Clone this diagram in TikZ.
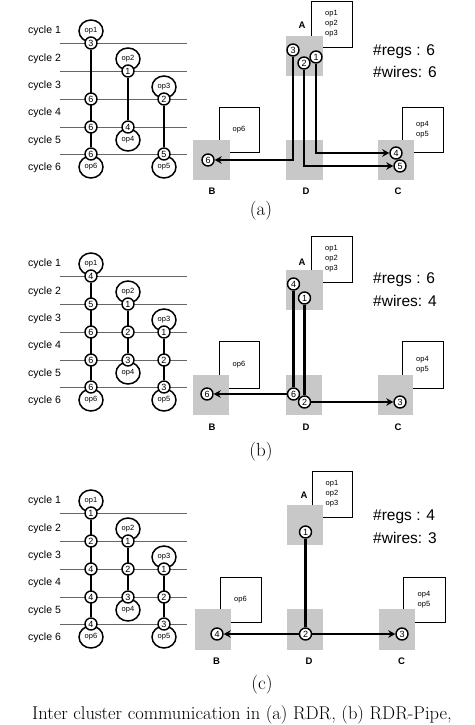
\documentclass[tikz,border=0pt]{standalone}
\usepackage{fontspec}
\setsansfont{Liberation Sans}
\usetikzlibrary{shapes.geometric,arrows.meta}
\pgfdeclarelayer{bg}
\pgfdeclarelayer{wirelayer}
\pgfsetlayers{bg,wirelayer,main}
\definecolor{clgray}{RGB}{200,200,200}
\tikzset{
  cyc/.style={font=\sffamily\fontsize{10.5}{12}\selectfont, anchor=west, inner sep=0},
  opell/.style={ellipse, draw, line width=1.5pt, fill=white, minimum width=24pt, minimum height=22pt, inner sep=0, font=\sffamily\fontsize{7.5}{8}\selectfont},
  reg/.style={circle, draw, line width=1.4pt, fill=white, minimum size=12pt, inner sep=0, font=\sffamily\fontsize{9}{9}\selectfont},
  gridline/.style={draw=black!60, line width=0.9pt},
  chain/.style={line width=2.8pt},
  opbox/.style={draw, line width=0.9pt, fill=white, inner sep=0, align=center, font=\sffamily\fontsize{7.5}{10}\selectfont},
  cluster/.style={fill=clgray, inner sep=0},
  clname/.style={font=\sffamily\bfseries\fontsize{9.5}{10}\selectfont, inner sep=0},
  wire/.style={line width=2.8pt},
  arr/.style={-{Stealth[length=7pt,width=7.5pt]}},
  stat/.style={font=\sffamily\fontsize{15.5}{17}\selectfont, anchor=west, inner sep=0},
  sublabel/.style={font=\fontsize{19}{21}\selectfont, inner sep=0},
}
% #1 prefix, #2 y of first line
\newcommand\schedgrid[2]{%
  \foreach \k/\dy in {1/-12,2/15.5,3/42.5,4/70,5/97.5,6/125}
    \node[cyc] (#1cyc\k) at (28,#2+\dy) {cycle \k};
  \begin{pgfonlayer}{bg}
  \foreach \k/\dy in {1/0,2/28,3/56,4/84,5/111}{
    \coordinate (#1gl\k) at (60,#2+\dy);
    \coordinate (#1gr\k) at (187,#2+\dy);
    \draw[gridline] (#1gl\k) -- (#1gr\k);
  }
  \end{pgfonlayer}
  \node[opell] (#1op1) at (91,#2-12) {op1};
  \node[opell] (#1op2) at (128,#2+16) {op2};
  \node[opell] (#1op3) at (164,#2+44) {op3};
  \node[opell] (#1op4) at (128,#2+97) {op4};
  \node[opell] (#1op5) at (164,#2+124) {op5};
  \node[opell] (#1op6) at (91,#2+124) {op6};
}
% #1 prefix, #2 x, #3 y0, #4 first line, #5 last line, #6 list line/number
\newcommand\colchain[6]{%
  \foreach \k/\n in {#6}{
    \pgfmathsetmacro\dy{{0,28,56,84,111}[\k-1]}
    \node[reg] (#1\k) at (#2,#3+\dy) {\n};
  }
  \begin{pgfonlayer}{wirelayer}
    \draw[chain] (#1#4) -- (#1#5);
  \end{pgfonlayer}
}
\begin{document}
\begin{tikzpicture}[x=1pt,y=-1pt]
\useasboundingbox (0,0) rectangle (474,725);

% ================= (a) =================
\schedgrid{a}{43}
\colchain{aca}{91}{43}{1}{5}{1/3,3/6,4/6,5/6}
\colchain{acb}{128}{43}{2}{4}{2/1,4/4}
\colchain{acc}{164}{43}{3}{5}{3/2,5/5}

\begin{pgfonlayer}{bg}
  \node[opbox, minimum width=41pt, minimum height=46pt] (aboxA) at (331.5,24) {op1\\op2\\op3};
  \node[opbox, minimum width=40pt, minimum height=45pt] (aboxB) at (239,129.5) {op6};
  \node[opbox, minimum width=41pt, minimum height=45pt] (aboxC) at (422.5,129.5) {op4\\op5};
  \node[cluster, minimum width=37pt, minimum height=40pt] (aA) at (304.5,56) {};
  \node[cluster, minimum width=37pt, minimum height=40pt] (aB) at (211.5,160) {};
  \node[cluster, minimum width=37pt, minimum height=40pt] (aD) at (304.5,160) {};
  \node[cluster, minimum width=36pt, minimum height=40pt] (aC) at (396,160) {};
\end{pgfonlayer}
\node[clname] (aAl) at (302,25) {A};
\node[clname] (aBl) at (212,191) {B};
\node[clname] (aDl) at (306,191) {D};
\node[clname] (aCl) at (398,191) {C};
\node[reg] (aA3) at (293,50) {3};
\node[reg] (aA2) at (304,63) {2};
\node[reg] (aA1) at (316,57) {1};
\node[reg] (aB6) at (208,160) {6};
\node[reg] (aC4) at (396,153) {4};
\node[reg] (aC5) at (400,166) {5};
\begin{pgfonlayer}{wirelayer}
  \draw[wire,arr] (aA3) |- (aB6);
  \draw[wire,arr] (aA2) |- (aC5);
  \draw[wire,arr] (aA1) |- (aC4);
\end{pgfonlayer}
\node[stat] (aregs) at (373,52) {\#regs : 6};
\node[stat] (awires) at (373,72) {\#wires: 6};
\node[sublabel] (asub) at (261,210.5) {(a)};

% ================= (b) =================
\schedgrid{b}{276}
\colchain{bca}{91}{276}{1}{5}{1/4,2/5,3/6,4/6,5/6}
\colchain{bcb}{128}{276}{2}{4}{2/1,3/2,4/3}
\colchain{bcc}{164}{276}{3}{5}{3/1,4/2,5/3}

\begin{pgfonlayer}{bg}
  \node[opbox, minimum width=41pt, minimum height=46pt] (bboxA) at (331.5,259) {op1\\op2\\op3};
  \node[opbox, minimum width=40pt, minimum height=47pt] (bboxB) at (239,364.5) {op6};
  \node[opbox, minimum width=41pt, minimum height=47pt] (bboxC) at (422.5,364.5) {op4\\op5};
  \node[cluster, minimum width=37pt, minimum height=40pt] (bA) at (304.5,290) {};
  \node[cluster, minimum width=36pt, minimum height=40pt] (bB) at (211,395) {};
  \node[cluster, minimum width=36pt, minimum height=40pt] (bD) at (304,395) {};
  \node[cluster, minimum width=35pt, minimum height=40pt] (bC) at (395.5,395) {};
\end{pgfonlayer}
\node[clname] (bAl) at (302,262) {A};
\node[clname] (bBl) at (212,427) {B};
\node[clname] (bDl) at (306,427) {D};
\node[clname] (bCl) at (398,427) {C};
\node[reg] (bA4) at (293.5,284) {4};
\node[reg] (bA1) at (304.5,298) {1};
\node[reg] (bD6) at (293.5,394) {6};
\node[reg] (bD2) at (304.5,402) {2};
\node[reg] (bB6) at (207,394) {6};
\node[reg] (bC3) at (400,402) {3};
\begin{pgfonlayer}{wirelayer}
  \draw[wire] (bA4) -- (bD6);
  \draw[wire] (bA1) -- (bD2);
  \draw[wire,arr] (bD6) -- (bB6);
  \draw[wire,arr] (bD2) -- (bC3);
\end{pgfonlayer}
\node[stat] (bregs) at (373,280) {\#regs : 6};
\node[stat] (bwires) at (373,301) {\#wires: 4};
\node[sublabel] (bsub) at (261,452) {(b)};

% ================= (c) =================
\schedgrid{c}{513}
\colchain{cca}{91}{513}{1}{5}{1/1,2/2,3/4,4/4,5/4}
\colchain{ccb}{128}{513}{2}{4}{2/1,3/2,4/3}
\colchain{ccc}{164}{513}{3}{5}{3/1,4/2,5/3}

\begin{pgfonlayer}{bg}
  \node[opbox, minimum width=40pt, minimum height=46pt] (cboxA) at (332,494) {op1\\op2\\op3};
  \node[opbox, minimum width=41pt, minimum height=45pt] (cboxB) at (240.5,599.5) {op6};
  \node[opbox, minimum width=42pt, minimum height=45pt] (cboxC) at (424,599.5) {op4\\op5};
  \node[cluster, minimum width=36pt, minimum height=40pt] (cA) at (305,525) {};
  \node[cluster, minimum width=36pt, minimum height=41pt] (cB) at (213,629.5) {};
  \node[cluster, minimum width=36pt, minimum height=41pt] (cD) at (305,629.5) {};
  \node[cluster, minimum width=36pt, minimum height=41pt] (cC) at (397,629.5) {};
\end{pgfonlayer}
\node[clname] (cAl) at (304,495) {A};
\node[clname] (cBl) at (216.5,661) {B};
\node[clname] (cDl) at (309,661) {D};
\node[clname] (cCl) at (401.5,661) {C};
\node[reg] (cA1) at (305.5,532) {1};
\node[reg] (cD2) at (305.5,634) {2};
\node[reg] (cB4) at (217,634) {4};
\node[reg] (cC3) at (402,634) {3};
\begin{pgfonlayer}{wirelayer}
  \draw[wire] (cA1) -- (cD2);
  \draw[wire,arr] (cD2) -- (cB4);
  \draw[wire,arr] (cD2) -- (cC3);
\end{pgfonlayer}
\node[stat] (cregs) at (373,517) {\#regs : 4};
\node[stat] (cwires) at (373,538) {\#wires: 3};
\node[sublabel] (csub) at (262,684.5) {(c)};

% caption
\node[anchor=base west, inner sep=0, font=\fontsize{18.5}{20}\selectfont] (caption) at (32,719.5)
  {Inter cluster communication in (a) RDR, (b) RDR-Pipe,};
\end{tikzpicture}
\end{document}
